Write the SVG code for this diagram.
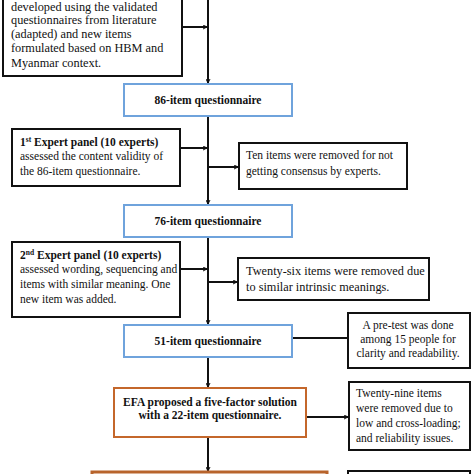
<svg xmlns="http://www.w3.org/2000/svg" width="474" height="474" viewBox="0 0 474 474">
<style>
text{font-family:"Liberation Serif","Times New Roman",serif;font-size:11.5px;fill:#111}
.b{font-weight:bold}
.c{text-anchor:middle}
.lg{font-size:12.3px}
.bk{fill:#fff;stroke:#111;stroke-width:2}
.bl{fill:#fff;stroke:#6fa3dc;stroke-width:2}
.or{fill:#fff;stroke:#c4672b;stroke-width:2}
.ln{stroke:#111;stroke-width:2;fill:none}
</style>
<defs>
<marker id="ah" viewBox="0 0 10 10" refX="9" refY="5" markerWidth="5" markerHeight="5" orient="auto" markerUnits="userSpaceOnUse">
<path d="M1,1 L9,5 L1,9" fill="none" stroke="#111" stroke-width="2"/>
</marker>
</defs>
<g id="connectors">
<line class="ln" x1="208" y1="0" x2="208" y2="83" marker-end="url(#ah)"/>
<line class="ln" x1="182" y1="27" x2="207" y2="27" marker-end="url(#ah)"/>
<line class="ln" x1="208" y1="116" x2="208" y2="204" marker-end="url(#ah)"/>
<line class="ln" x1="180" y1="148" x2="207" y2="148" marker-end="url(#ah)"/>
<line class="ln" x1="208" y1="167" x2="238" y2="167" marker-end="url(#ah)"/>
<line class="ln" x1="208" y1="237" x2="208" y2="324" marker-end="url(#ah)"/>
<line class="ln" x1="180" y1="269" x2="207" y2="269" marker-end="url(#ah)"/>
<line class="ln" x1="208" y1="282" x2="237" y2="282" marker-end="url(#ah)"/>
<line class="ln" x1="292" y1="338" x2="348" y2="338"/>
<line class="ln" x1="208" y1="357" x2="208" y2="387" marker-end="url(#ah)"/>
<line class="ln" x1="306" y1="417" x2="348" y2="417" marker-end="url(#ah)"/>
<line class="ln" x1="208" y1="437" x2="208" y2="471" marker-end="url(#ah)"/>
</g>
<g id="top-box">
<rect class="bk" x="3" y="-10" width="179" height="86"/>
<text class="lg" x="11" y="10.5">developed using the validated</text>
<text class="lg" x="11" y="23.5">questionnaires from literature</text>
<text class="lg" x="11" y="37.5">(adapted) and new items</text>
<text class="lg" x="11" y="52">formulated based on HBM and</text>
<text class="lg" x="11" y="66.5">Myanmar context.</text>
</g>
<g id="q86">
<rect class="bl" x="124" y="84" width="168" height="32"/>
<text class="b c" x="208" y="104">86-item questionnaire</text>
</g>
<g id="panel1">
<rect class="bk" x="12" y="129" width="168" height="57"/>
<text class="b" x="20" y="146">1<tspan font-size="7.5" baseline-shift="super">st</tspan> Expert panel (10 experts)</text>
<text x="20" y="160">assessed the content validity of</text>
<text x="20" y="175">the 86-item questionnaire.</text>
</g>
<g id="removed10">
<rect class="bk" x="239" y="143" width="168" height="46"/>
<text x="246" y="159">Ten items were removed for not</text>
<text x="246" y="175">getting consensus by experts.</text>
</g>
<g id="q76">
<rect class="bl" x="124" y="205" width="168" height="32"/>
<text class="b c" x="208" y="225">76-item questionnaire</text>
</g>
<g id="panel2">
<rect class="bk" x="12" y="242" width="168" height="75"/>
<text class="b" x="20" y="259">2<tspan font-size="7.5" baseline-shift="super">nd</tspan> Expert panel (10 experts)</text>
<text x="20" y="273">assessed wording, sequencing and</text>
<text x="20" y="288">items with similar meaning. One</text>
<text x="20" y="303">new item was added.</text>
</g>
<g id="removed26">
<rect class="bk" x="238" y="258" width="191" height="42"/>
<text class="lg" x="246" y="275">Twenty-six items were removed due</text>
<text class="lg" x="246" y="291">to similar intrinsic meanings.</text>
</g>
<g id="q51">
<rect class="bl" x="124" y="325" width="168" height="32"/>
<text class="b c" x="208" y="345">51-item questionnaire</text>
</g>
<g id="pretest">
<rect class="bk" x="348" y="313" width="122" height="55"/>
<text class="c" x="408" y="329" font-size="12">A pre-test was done</text>
<text class="c" x="408" y="343" font-size="12">among 15 people for</text>
<text class="c" x="408" y="357">clarity and readability.</text>
</g>
<g id="efa">
<rect class="or" x="114" y="388" width="192" height="49"/>
<text class="b c" x="210" y="406">EFA proposed a five-factor solution</text>
<text class="b c" x="210" y="419">with a 22-item questionnaire.</text>
</g>
<g id="removed29">
<rect class="bk" x="349" y="382" width="121" height="68"/>
<text x="356" y="397">Twenty-nine items</text>
<text x="356" y="412">were removed due to</text>
<text x="356" y="427">low and cross-loading;</text>
<text x="356" y="442">and reliability issues.</text>
</g>
<g id="bottom-box">
<rect x="92" y="472" width="235" height="20" fill="#fff" stroke="#b8642c" stroke-width="3"/>
</g>
<g id="bottom-right-box">
<rect class="bk" x="348" y="471" width="122" height="20"/>
</g>
</svg>
